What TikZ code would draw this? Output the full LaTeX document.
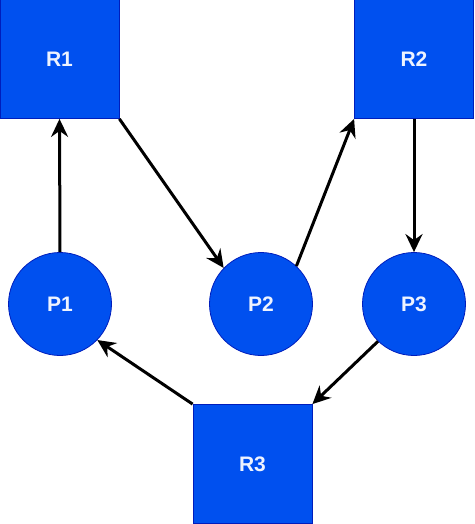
\documentclass[tikz,border=0pt]{standalone}
\usepackage{fontspec}
\setmainfont{Liberation Sans}
\usepackage{xcolor}
\definecolor{nodefill}{HTML}{0050EF}
\definecolor{nodeline}{HTML}{001DBC}
\definecolor{nodetext}{HTML}{EEF3FF}
\usepackage{tikz}
\usetikzlibrary{arrows.meta,positioning}

\begin{document}
\begin{tikzpicture}[x=1pt, y=-1pt,
    res/.style={rectangle, draw=nodeline, fill=nodefill, text=nodetext, minimum width=119pt, minimum height=119pt, font=\fontsize{21}{24}\selectfont\bfseries, line width=0.8pt, inner sep=0pt},
    proc/.style={circle, draw=nodeline, fill=nodefill, text=nodetext, minimum size=103pt, font=\fontsize{21}{24}\selectfont\bfseries, line width=0.8pt, inner sep=0pt},
    edge/.style={-{Stealth[length=18pt,width=17pt,inset=6pt]}, line width=3pt, black},
  ]
    \useasboundingbox (0,0) rectangle (474,524);
    \node[res] (r1) at (59.5,59) {R1};
    \node[res] (r2) at (414,59) {R2};
    \node[res] (r3) at (252.5,464) {R3};
    \node[proc] (p1) at (60,304) {P1};
    \node[proc] (p2) at (261,304) {P2};
    \node[proc] (p3) at (414,304) {P3};
    % Edges
    \draw[edge] (p1.north) -- (r1.south);
    \draw[edge] (r1.south east) -- (p2.136);
    \draw[edge] (p2.47) -- (r2.south west);
    \draw[edge] (r2.south) -- (p3.north);
    \draw[edge] (p3.226) -- (r3.north east);
    \draw[edge] (r3.north west) -- (p1.316);
  \end{tikzpicture}
\end{document}
